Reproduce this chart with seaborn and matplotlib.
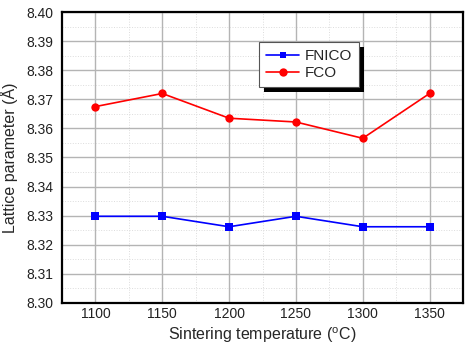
import matplotlib
matplotlib.use("Agg")
import matplotlib.pyplot as plt
import matplotlib.patches as mpatches
from matplotlib.ticker import MultipleLocator, FormatStrFormatter
import pandas as pd
import seaborn as sns

temperatures = [1100, 1150, 1200, 1250, 1300, 1350]
fnico = [8.3298, 8.3298, 8.3262, 8.3298, 8.3262, 8.3262]
fco = [8.3675, 8.3720, 8.3635, 8.3622, 8.3566, 8.3720]

df = pd.DataFrame({
    "T": temperatures * 2,
    "a": fnico + fco,
    "sample": ["FNICO"] * len(temperatures) + ["FCO"] * len(temperatures),
})

sns.set_style("white")
plt.rcParams["font.family"] = ["Liberation Sans", "DejaVu Sans"]
plt.rcParams["mathtext.fontset"] = "custom"
plt.rcParams["mathtext.rm"] = "Liberation Sans"

fig = plt.figure(figsize=(4.74, 3.48), dpi=100)
ax = fig.add_axes([62 / 474, 1 - 303 / 348, 401 / 474, 291 / 348])

sns.lineplot(data=df, x="T", y="a", hue="sample", style="sample",
             palette={"FNICO": "#0000ff", "FCO": "#ff0000"},
             markers={"FNICO": "s", "FCO": "o"},
             dashes={"FNICO": "", "FCO": ""},
             markersize=6, linewidth=1.2, markeredgewidth=0,
             ax=ax, legend=False)

ax.set_xlim(1075, 1375)
ax.set_ylim(8.30, 8.40)
ax.xaxis.set_major_locator(MultipleLocator(50))
ax.xaxis.set_minor_locator(MultipleLocator(25))
ax.yaxis.set_major_locator(MultipleLocator(0.01))
ax.yaxis.set_minor_locator(MultipleLocator(0.005))
ax.yaxis.set_major_formatter(FormatStrFormatter("%.2f"))

ax.grid(which="major", color="#b4b4b4", linewidth=1.0, linestyle="-")
ax.grid(which="minor", color="#dcdcdc", linewidth=0.7, linestyle=":")
ax.set_axisbelow(True)

for s in ax.spines.values():
    s.set_linewidth(1.6)
    s.set_color("black")

ax.tick_params(which="major", direction="in", length=4, width=1.2,
               labelsize=10, top=False, right=False, pad=3, colors="black")
ax.tick_params(which="minor", direction="in", length=2.5, width=1.0,
               top=False, right=False)
ax.tick_params(axis="y", which="major", pad=6)
for lab in ax.get_xticklabels() + ax.get_yticklabels():
    lab.set_color("#222222")

ax.set_xlabel(r"Sintering temperature ($^{\rm o}$C)", fontsize=11.5, labelpad=3)
ax.set_ylabel("Lattice parameter (Å)", fontsize=11.5, labelpad=6)

handles = [
    plt.Line2D([], [], color="#0000ff", marker="s", markersize=5, linewidth=1.2,
               markeredgewidth=0, label="FNICO"),
    plt.Line2D([], [], color="#ff0000", marker="o", markersize=6, linewidth=1.2,
               markeredgewidth=0, label="FCO"),
]
leg = ax.legend(handles=handles, loc="upper left", bbox_to_anchor=(0.491, 0.897),
                fontsize=11, frameon=True, fancybox=False, framealpha=1,
                edgecolor="#555555", borderpad=0.45, handlelength=2.2,
                handletextpad=0.35, labelspacing=0.2, borderaxespad=0)
leg.get_frame().set_linewidth(0.8)
leg.set_zorder(10)

# drop shadow under the legend box
fig.canvas.draw()
bb = leg.get_window_extent().transformed(ax.transAxes.inverted())
dx, dy = 5 / 401, 5 / 291
shadow = mpatches.Rectangle((bb.x0 + dx, bb.y0 - dy), bb.width, bb.height,
                            transform=ax.transAxes, facecolor="black",
                            edgecolor="none", clip_on=False, zorder=9)
ax.add_patch(shadow)

fig.savefig("out.png", dpi=100)
